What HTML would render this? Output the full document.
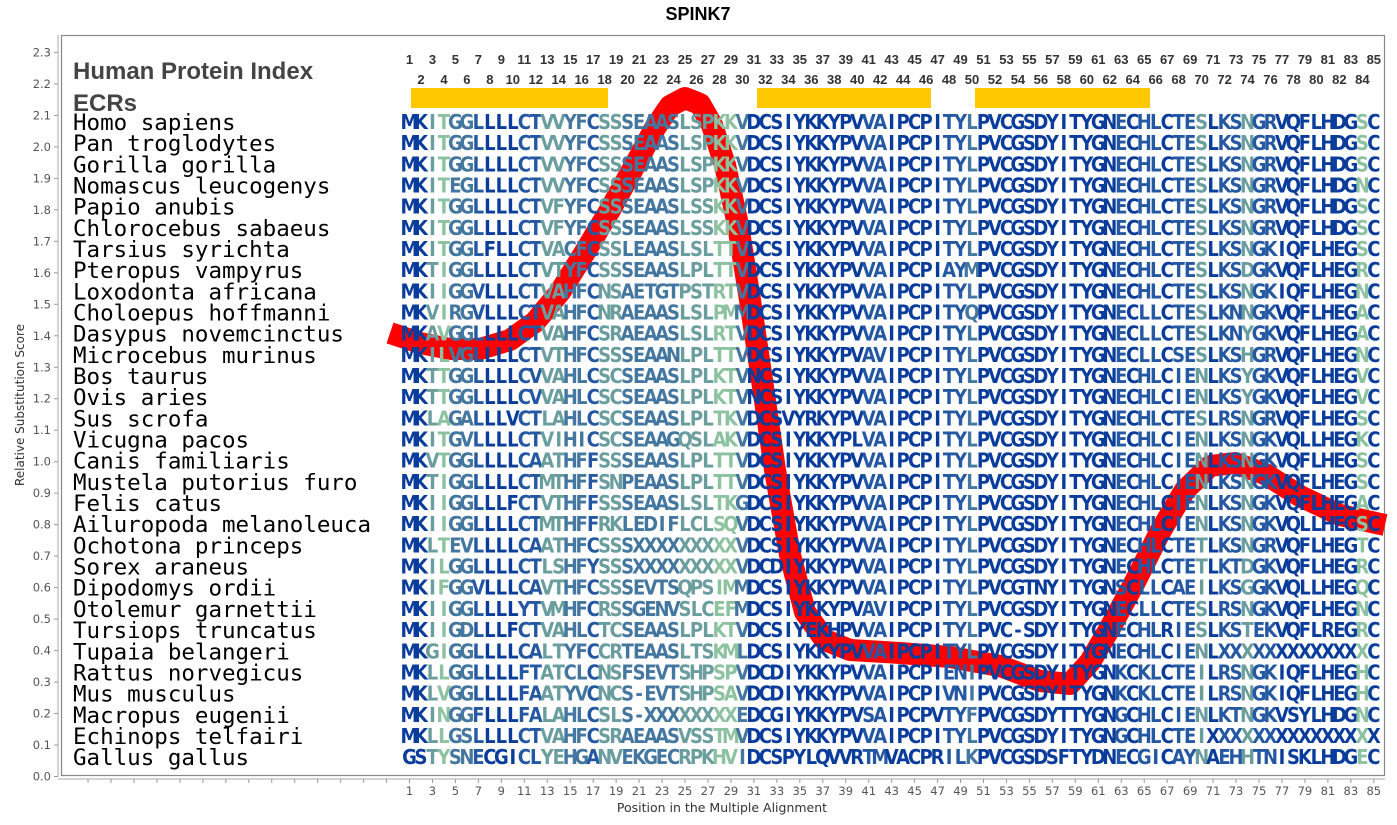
<!DOCTYPE html>
<html><head><meta charset="utf-8"><style>
html,body{margin:0;padding:0;background:#fff;width:1397px;height:825px;overflow:hidden}
svg{display:block}
.sp{font-family:"DejaVu Sans Mono","Liberation Mono",monospace;font-size:22.5px;fill:#000}
.sq{font-family:"DejaVu Sans Condensed","DejaVu Sans","Liberation Sans",sans-serif;font-weight:bold;font-size:20px}
.tk{font-family:"DejaVu Sans","Liberation Sans",sans-serif;font-size:11.5px;fill:#555}
.tn{font-family:"Liberation Sans",sans-serif;font-weight:bold;font-size:13px;fill:#333}
</style></head><body>
<svg id="s" width="1397" height="825" xmlns="http://www.w3.org/2000/svg">
<text x="698" y="20" text-anchor="middle" font-family="Liberation Sans,sans-serif" font-weight="bold" font-size="18">SPINK7</text>
<rect x="61.5" y="35.5" width="1323" height="740" fill="none" stroke="#888" stroke-width="1.2"/>
<line x1="58" y1="35" x2="58" y2="777" stroke="#aaa"/>
<line x1="58" y1="779" x2="1385" y2="779" stroke="#aaa"/>
<g id="yt"></g><g id="xt"></g>
<text transform="translate(24,405) rotate(-90)" text-anchor="middle" font-family="DejaVu Sans,sans-serif" font-size="12" fill="#333">Relative Substitution Score</text>
<text x="722" y="812" text-anchor="middle" font-family="DejaVu Sans,sans-serif" font-size="12.5" fill="#333">Position in the Multiple Alignment</text>
<text x="73" y="79" font-family="Liberation Sans,sans-serif" font-weight="bold" font-size="24" fill="#444">Human Protein Index</text>
<text x="73" y="111" font-family="Liberation Sans,sans-serif" font-weight="bold" font-size="24" fill="#444">ECRs</text>
<rect x="411" y="88" width="197" height="20" fill="#ffc800"/>
<rect x="757" y="88" width="174" height="20" fill="#ffc800"/>
<rect x="975" y="88" width="175" height="20" fill="#ffc800"/>
<g id="nums"></g>
<polyline fill="none" stroke="#ff0000" stroke-width="22" stroke-linejoin="round" points="390,333 420,343 450,349 480,349 510,340 535,322 560,292 585,252 610,210 635,165 655,128 670,106 685,98 700,104 712,125 725,165 738,225 750,300 762,380 775,470 790,555 805,612 825,640 850,650 900,653 950,657 1000,666 1040,681 1070,684 1090,662 1110,628 1135,582 1160,532 1185,490 1210,466 1235,463 1265,474 1300,496 1340,515 1385,525"/>
<g id="names" class="sp">
<text x="73">Homo sapiens</text><text x="73">Pan troglodytes</text><text x="73">Gorilla gorilla</text><text x="73">Nomascus leucogenys</text><text x="73">Papio anubis</text><text x="73">Chlorocebus sabaeus</text><text x="73">Tarsius syrichta</text><text x="73">Pteropus vampyrus</text><text x="73">Loxodonta africana</text><text x="73">Choloepus hoffmanni</text><text x="73">Dasypus novemcinctus</text><text x="73">Microcebus murinus</text><text x="73">Bos taurus</text><text x="73">Ovis aries</text><text x="73">Sus scrofa</text><text x="73">Vicugna pacos</text><text x="73">Canis familiaris</text><text x="73">Mustela putorius furo</text><text x="73">Felis catus</text><text x="73">Ailuropoda melanoleuca</text><text x="73">Ochotona princeps</text><text x="73">Sorex araneus</text><text x="73">Dipodomys ordii</text><text x="73">Otolemur garnettii</text><text x="73">Tursiops truncatus</text><text x="73">Tupaia belangeri</text><text x="73">Rattus norvegicus</text><text x="73">Mus musculus</text><text x="73">Macropus eugenii</text><text x="73">Echinops telfairi</text><text x="73">Gallus gallus</text>
</g>
<g id="seqs" class="sq">
<text>MKITGGLLLLCTVVYFCSSSEAASLSPKKVDCSIYKKYPVVAIPCPITYLPVCGSDYITYGNECHLCTESLKSNGRVQFLHDGSC</text>
<text>MKITGGLLLLCTVVYFCSSSEAASLSPKKVDCSIYKKYPVVAIPCPITYLPVCGSDYITYGNECHLCTESLKSNGRVQFLHDGSC</text>
<text>MKITGGLLLLCTVVYFCSSSEAASLSPKKVDCSIYKKYPVVAIPCPITYLPVCGSDYITYGNECHLCTESLKSNGRVQFLHDGSC</text>
<text>MKITEGLLLLCTVVYFCSSSEAASLSPKKVDCSIYKKYPVVAIPCPITYLPVCGSDYITYGNECHLCTESLKSNGRVQFLHDGNC</text>
<text>MKITGGLLLLCTVFYFCSSSEAASLSSKKVDCSIYKKYPVVAIPCPITYLPVCGSDYITYGNECHLCTESLKSNGRVQFLHDGSC</text>
<text>MKITGGLLLLCTVFYFCSSSEAASLSSKKVDCSIYKKYPVVAIPCPITYLPVCGSDYITYGNECHLCTESLKSNGRVQFLHDGSC</text>
<text>MKITGGLFLLCTVACFCSSLEAASLSLTTVDCSIYKKYPVVAIPCPITYLPVCGSDYITYGNECHLCTESLKSNGKIQFLHEGSC</text>
<text>MKTIGGLLLLCTVTYFCSSSEAASLPLTTVDCSIYKKYPVVAIPCPIAYMPVCGSDYITYGNECHLCTESLKSDGKVQFLHEGRC</text>
<text>MKIIGGVLLLCTVAHFCNSAETGTPSTRTVDCSIYKKYPVVAIPCPITYLPVCGSDYITYGNECHLCTESLKSNGKIQFLHEGNC</text>
<text>MKVIRGVLLLCTVAHFCNRAEAASLSLPMMDCSIYKKYPVVAIPCPITYQPVCGSDYITYGNECLLCTESLKNNGKVQFLHEGAC</text>
<text>MKAVGGLLLLCTVAHFCSRAEAASLSLRTVDCSIYKKYPVVAIPCPITYLPVCGSDYITYGNECLLCTESLKNYGKVQFLHEGAC</text>
<text>MKILVGLLLLCTVTHFCSSSEAANLPLTTVDCSIYKKYPVAVIPCPITYLPVCGSDYITYGNECLLCSESLKSHGRVQFLHEGNC</text>
<text>MKTTGGLLLLCVVAHLCSCSEAASLPLKTVNCSIYKKYPVVAIPCPITYLPVCGSDYITYGNECHLCIENLKSYGKVQFLHEGVC</text>
<text>MKTTGGLLLLCVVAHLCSCSEAASLPLKTVNCSIYKKYPVVAIPCPITYLPVCGSDYITYGNECHLCIENLKSYGKVQFLHEGVC</text>
<text>MKLAGALLLVCTLAHLCSCSEAASLPLTKVDCSVYRKYPVVAIPCPITYLPVCGSDYITYGNECHLCTESLRSNGRVQFLHEGSC</text>
<text>MKITGVLLLLCTVIHICSCSEAAGQSLAKVDCSIYKKYPLVAIPCPITYLPVCGSDYITYGNECHLCIENLKSNGKVQLLHEGKC</text>
<text>MKVTGGLLLLCAATHFFSSSEAASLPLTTVDCSIYKKYPVVAIPCPITYLPVCGSDYITYGNECHLCIENLKSNGKVQFLHEGSC</text>
<text>MKTIGGLLLLCTMTHFFSNPEAASLPLTTVDCSIYKKYPVVAIPCPITYLPVCGSDYITYGNECHLCIENLKSNGKVQFLHEGSC</text>
<text>MKIIGGLLLFCTVTHFFSSSEAASLSLTKGDCSIYKKYPVVAIPCPITYLPVCGSDYITYGNECHLCIENLKSNGKVQFLHEGAC</text>
<text>MKIIGGLLLLCTMTHFFRKLEDIFLCLSQVDCSIYKKYPVVAIPCPITYLPVCGSDYITYGNECHLCIENLKSNGKVQLLHEGSC</text>
<text>MKLTEVLLLLCAATHFCSSSXXXXXXXXXVDCSIYKKYPVVAIPCPITYLPVCGSDYITYGNECHLCTETLKSNGRVQFLHEGTC</text>
<text>MKILGGLLLLCTLSHFYSSSXXXXXXXXXVDCDIYKKYPVVAIPCPITYLPVCGSDYITYGNECHLCTETLKTDGKVQFLHEGRC</text>
<text>MKIFGGVLLLCAVTHFCSSSEVTSQPSIMMDCSIYKKYPVVAIPCPITYLPVCGTNYITYGNSCLLCAEILKSGGKVQLLHEGQC</text>
<text>MKIIGGLLLLYTVMHFCRSSGENVSLCEFMDCSIYKKYPVAVIPCPITYLPVCGSDYITYGNECLLCTESLRSNGKVQFLHEGNC</text>
<text>MKIIGDLLLFCTVAHLCTCSEAASLPLKTVDCSIYEKHPVVAIPCPITYLPVC-SDYITYGNECHLRIESLKSTEKVQFLREGRC</text>
<text>MKGIGGLLLLCALTYFCCRTEAASLTSKMLDCSIYKKYPVVAIPCPITYLPVCGSDYITYGNECHLCIENLXXXXXXXXXXXXXC</text>
<text>MKLLGGLLLLFTATCLCNSFSEVTSHPSPVDCDIYKKYPVVAIPCPIENIPVCGSDYITYGNKCKLCTEILRSNGKIQFLHEGHC</text>
<text>MKLVGGLLLLFAATYVCNCS-EVTSHPSAVDCDIYKKYPVVAIPCPIVNIPVCGSDYITYGNKCKLCTEILRSNGKIQFLHEGHC</text>
<text>MKINGGFLLLFALAHLCSLS-XXXXXXXXEDCGIYKKYPVSAIPCPVTYFPVCGSDYTTYGNGCHLCIENLKTNGKVSYLHDGNC</text>
<text>MKLLGSLLLLCTVAHFCSRAEAASVSSTMVDCSIYKKYPVVAIPCPITYLPVCGSDYITYGNGCHLCTEIXXXXXXXXXXXXXXX</text>
<text>GSTYSNECGICLYEHGANVEKGECRPKHVIDCSPYLQVVRTMVACPRILKPVCGSDSFTYDNECGICAYNAEHHTNISKLHDGEC</text>
</g>
</svg>
<script>
(function(){
var NS="http://www.w3.org/2000/svg";
function X(p){return 409.5+(p-1)*11.48;}
var yt=document.getElementById("yt");
for(var i=0;i<=23;i++){var y=776.5-i*31.48;
var t=document.createElementNS(NS,"text");t.setAttribute("x",51);t.setAttribute("y",y+4);t.setAttribute("text-anchor","end");t.setAttribute("class","tk");t.textContent=(i/10).toFixed(1);yt.appendChild(t);
var l=document.createElementNS(NS,"line");l.setAttribute("x1",54);l.setAttribute("x2",58);l.setAttribute("y1",y);l.setAttribute("y2",y);l.setAttribute("stroke","#999");yt.appendChild(l);}
var xt=document.getElementById("xt");
for(var p=-27;p<=85;p+=2){var x=X(p);
var l=document.createElementNS(NS,"line");l.setAttribute("x1",x);l.setAttribute("x2",x);l.setAttribute("y1",779);l.setAttribute("y2",783);l.setAttribute("stroke","#999");xt.appendChild(l);
if(p>=1){var t=document.createElementNS(NS,"text");t.setAttribute("x",x);t.setAttribute("y",795);t.setAttribute("text-anchor","middle");t.setAttribute("class","tk");t.textContent=p;xt.appendChild(t);}}
var nums=document.getElementById("nums");
for(var p=1;p<=85;p++){var t=document.createElementNS(NS,"text");t.setAttribute("x",X(p));t.setAttribute("y",p%2?64:84);t.setAttribute("text-anchor","middle");t.setAttribute("class","tn");t.textContent=p;nums.appendChild(t);}
var names=document.getElementById("names").children;
for(var r=0;r<names.length;r++)names[r].setAttribute("y",130+r*21.17);
var cmap={A:"#0a3c9c",B:"#2458a2",C:"#44779f",D:"#6a9e9e",E:"#8cc2a0"};
var cs="AADECCBAAABBDDCCBDDCCCCCDDDEECAAAAAAAAAABBAAAAABBCAAAAAAAAAAAABABBABBDABBDBBAAAAAAAEA";
var rows=document.getElementById("seqs").children;
for(var r=0;r<rows.length;r++){var el=rows[r],s=el.textContent;el.textContent="";
el.setAttribute("y",129+r*21.17);el.setAttribute("text-anchor","middle");
for(var i=0;i<s.length;i++){var ts=document.createElementNS(NS,"tspan");ts.setAttribute("x",X(i+1));ts.setAttribute("fill",cmap[cs[i]]||"#0a3c9c");ts.textContent=s[i];el.appendChild(ts);}}
})();
</script>
</body></html>
